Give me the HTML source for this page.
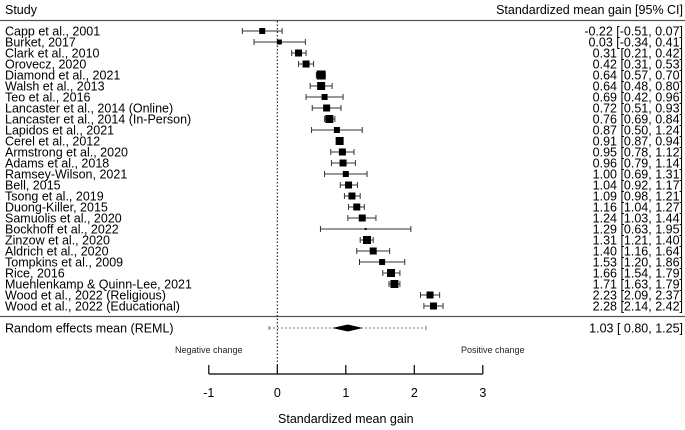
<!DOCTYPE html>
<html><head><meta charset="utf-8"><style>
body{margin:0;background:#fff;}
svg{display:block;font-family:"Liberation Sans",Arial,sans-serif;}
</style></head><body>
<svg id="plot" width="685" height="430" xmlns="http://www.w3.org/2000/svg">
<text x="5" y="14" font-size="12.5">Study</text>
<text x="683" y="14" font-size="12.5" text-anchor="end">Standardized mean gain [95% CI]</text>
<line x1="0" y1="20.5" x2="685" y2="20.5" stroke="#555" stroke-width="1.2"/>
<line x1="0" y1="316.5" x2="685" y2="316.5" stroke="#555" stroke-width="1.2"/>
<g id="rows"></g>
<g id="axis"></g>
</svg>
<script>
const studies=["Capp et al., 2001","Burket, 2017","Clark et al., 2010","Orovecz, 2020","Diamond et al., 2021","Walsh et al., 2013","Teo et al., 2016","Lancaster et al., 2014 (Online)","Lancaster et al., 2014 (In-Person)","Lapidos et al., 2021","Cerel et al., 2012","Armstrong et al., 2020","Adams et al., 2018","Ramsey-Wilson, 2021","Bell, 2015","Tsong et al., 2019","Duong-Killer, 2015","Samuolis et al., 2020","Bockhoff et al., 2022","Zinzow et al., 2020","Aldrich et al., 2020","Tompkins et al., 2009","Rice, 2016","Muehlenkamp & Quinn-Lee, 2021","Wood et al., 2022 (Religious)","Wood et al., 2022 (Educational)"];
const est=[-0.22,0.03,0.31,0.42,0.64,0.64,0.69,0.72,0.76,0.87,0.91,0.95,0.96,1.00,1.04,1.09,1.16,1.24,1.29,1.31,1.40,1.53,1.66,1.71,2.23,2.28];
const lo=[-0.51,-0.34,0.21,0.31,0.57,0.48,0.42,0.51,0.69,0.50,0.87,0.78,0.79,0.69,0.92,0.98,1.04,1.03,0.63,1.21,1.16,1.20,1.54,1.63,2.09,2.14];
const hi=[0.07,0.41,0.42,0.53,0.70,0.80,0.96,0.93,0.84,1.24,0.94,1.12,1.14,1.31,1.17,1.21,1.27,1.44,1.95,1.40,1.64,1.86,1.79,1.79,2.37,2.42];
const weights=[6,5,7,7,9,8,6,7,8,6,8,7,7,6,7,7,7,7,2,8,7,6,8,8,7,7];
const summary=[1.03,0.80,1.25];
const predInt=[-0.12,2.17];
const ticks=[-1,0,1,2,3];
const NS="http://www.w3.org/2000/svg";
const x=v=>277.3+v*68.5;
const rowY=i=>31+i*(275/25);
function mk(tag,attrs,parent,txt){const e=document.createElementNS(NS,tag);for(const k in attrs)e.setAttribute(k,attrs[k]);if(txt!==undefined)e.textContent=txt;parent.appendChild(e);return e;}
const rows=document.getElementById('rows'),axis=document.getElementById('axis'),svg=document.getElementById('plot');
const f=n=>n.toFixed(2).replace(/^(\d)/,' $1');
const zl=mk('line',{x1:x(0),y1:21,x2:x(0),y2:366,stroke:'#000','stroke-dasharray':'1.5,2','stroke-width':1},svg);


studies.forEach((s,i)=>{
 const y=rowY(i);
 const g=mk('g',{},rows);
 
 
 mk('text',{x:5,y:y+4.5,'font-size':12.5},g,s);
 const fmt=v=>(v<0?'':' ')+v.toFixed(2);
 mk('text',{x:683,y:y+4.5,'font-size':12.5,'text-anchor':'end','xml:space':'preserve'},g,fmt(est[i])+' ['+fmt(lo[i]).trimStart()+', '+hi[i].toFixed(2)+']');
 mk('line',{x1:x(lo[i]),y1:y,x2:x(hi[i]),y2:y,stroke:'#333','stroke-width':1},g);
 mk('line',{x1:x(lo[i]),y1:y-3,x2:x(lo[i]),y2:y+3,stroke:'#333'},g);
 mk('line',{x1:x(hi[i]),y1:y-3,x2:x(hi[i]),y2:y+3,stroke:'#333'},g);
 const w=weights[i];
 const b=mk('rect',{x:x(est[i])-w/2,y:y-w/2,width:w,height:w,fill:'#000'},g);
 
 
});
const sy=328;
const sg=mk('g',{},svg);


mk('text',{x:5,y:sy+4.5,'font-size':12.5},sg,'Random effects mean (REML)');
mk('text',{x:683,y:sy+4.5,'font-size':12.5,'text-anchor':'end','xml:space':'preserve'},sg,' '+summary[0].toFixed(2)+' [ '+summary[1].toFixed(2)+', '+summary[2].toFixed(2)+']');
mk('line',{x1:x(predInt[0]),y1:sy,x2:x(predInt[1]),y2:sy,stroke:'#777','stroke-dasharray':'2,2'},sg);
mk('line',{x1:x(predInt[0]),y1:sy-2,x2:x(predInt[0]),y2:sy+2,stroke:'#777'},sg);
mk('line',{x1:x(predInt[1]),y1:sy-2,x2:x(predInt[1]),y2:sy+2,stroke:'#777'},sg);
const d=mk('polygon',{points:`${x(summary[1])},${sy} ${x(summary[0])},${sy-3.5} ${x(summary[2])},${sy} ${x(summary[0])},${sy+3.5}`,fill:'#000'},sg);


const nl=mk('text',{x:175,y:353,'font-size':9,fill:'#222'},svg,'Negative change');


const pl=mk('text',{x:461,y:353,'font-size':9,fill:'#222'},svg,'Positive change');




mk('line',{x1:x(ticks[0]),y1:374,x2:x(ticks[ticks.length-1]),y2:374,stroke:'#000','stroke-width':1.2},axis);
ticks.forEach(t=>{
 mk('line',{x1:x(t),y1:365,x2:x(t),y2:374,stroke:'#000','stroke-width':1.2},axis);
 const tl=mk('text',{x:x(t),y:397,'font-size':12.5,'text-anchor':'middle'},axis,String(t));
 
 
});
const at=mk('text',{x:x(1),y:423,'font-size':12.5,'text-anchor':'middle'},svg,'Standardized mean gain');


</script>
</body></html>
